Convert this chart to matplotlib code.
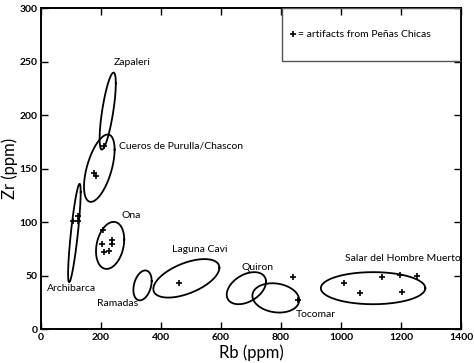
import numpy as np
import matplotlib
matplotlib.use("Agg")
import matplotlib.pyplot as plt
from matplotlib.patches import Rectangle

plt.rcParams['font.family'] = ['Lato', 'DejaVu Sans']

# source fields: ellipse centre, half-ranges and tilt (correlation)
groups = ["Zapaleri", "Cueros de Purulla/Chascon", "Archibarca", "Ona", "Ramadas",
          "Laguna Cavi", "Quiron", "Tocomar", "Salar del Hombre Muerto"]
ell_cx = [223, 195, 112, 231, 339, 485, 685, 783, 1107]
ell_cy = [204, 150.6, 90, 78.4, 41, 47.6, 38.4, 29.3, 38.4]
ell_rx = [27, 51, 21, 47, 30.5, 110, 65.5, 78, 174]
ell_ry = [36, 31.5, 46, 22, 14, 18, 15, 13.7, 15]
ell_rho = [0.72, 0.55, 0.83, 0.25, 0.3, 0.55, 0.4, -0.15, 0.0]

# where the names are written
label_x = [306, 261, 101, 300, 255, 530, 721, 917, 1205]
label_y = [249, 171, 38, 106, 24, 75, 58, 14, 66]
label_ha = ["center", "left", "center", "center", "center", "center", "center", "center", "center"]

# artifacts from Peñas Chicas
rb = [209, 178, 183, 107, 123, 123, 207, 205, 237, 237, 211, 226,
      461, 839, 857, 1011, 1064, 1137, 1198, 1203, 1255]
zr = [171, 146, 143, 101.5, 105.6, 100.9, 92.4, 80, 83.7, 80, 71.8, 72.8,
      43.7, 49.3, 27.5, 43.7, 33.7, 48.4, 50.9, 35.2, 50]

fig = plt.figure(figsize=(4.74, 3.63), dpi=100)
ax = fig.add_axes([0.086, 0.093, 0.8866, 0.8838])

t = np.linspace(0, 2*np.pi, 300)
for i in range(len(groups)):
    phi = np.arccos(ell_rho[i])
    ex = ell_cx[i] + ell_rx[i]*np.cos(t)
    ey = ell_cy[i] + ell_ry[i]*np.cos(t - phi)
    ax.plot(ex, ey, color="black", lw=1.3)
    ax.text(label_x[i], label_y[i], groups[i], ha=label_ha[i], va="center", fontsize=7.5)

ax.plot(rb, zr, "+", color="black", ms=5, mew=1.2)

# legend box
ax.add_patch(Rectangle((0.574, 0.836), 0.426, 0.164, transform=ax.transAxes,
                       fill=False, edgecolor="#555555", lw=1, zorder=3))
ax.plot([0.6], [0.9195], "+", color="black", ms=4.5, mew=1.2,
        transform=ax.transAxes)
ax.text(0.612, 0.9195, "= artifacts from Peñas Chicas", transform=ax.transAxes,
        ha="left", va="center", fontsize=7.5)

ax.set_xlim(0, 1400)
ax.set_ylim(0, 300)
ax.set_xticks(range(0, 1401, 200))
ax.set_yticks(range(0, 301, 50))
ax.tick_params(direction="in", top=True, right=True, length=5, width=1,
               labelsize=7.5, pad=2.5)
for lab in ax.get_xticklabels() + ax.get_yticklabels():
    lab.set_fontweight("bold")
for s in ax.spines.values():
    s.set_linewidth(1.4)

ax.set_xlabel("Rb (ppm)", fontsize=12, labelpad=2)
ax.set_ylabel("Zr (ppm)", fontsize=12, labelpad=1)

fig.savefig("out.png", dpi=100)
